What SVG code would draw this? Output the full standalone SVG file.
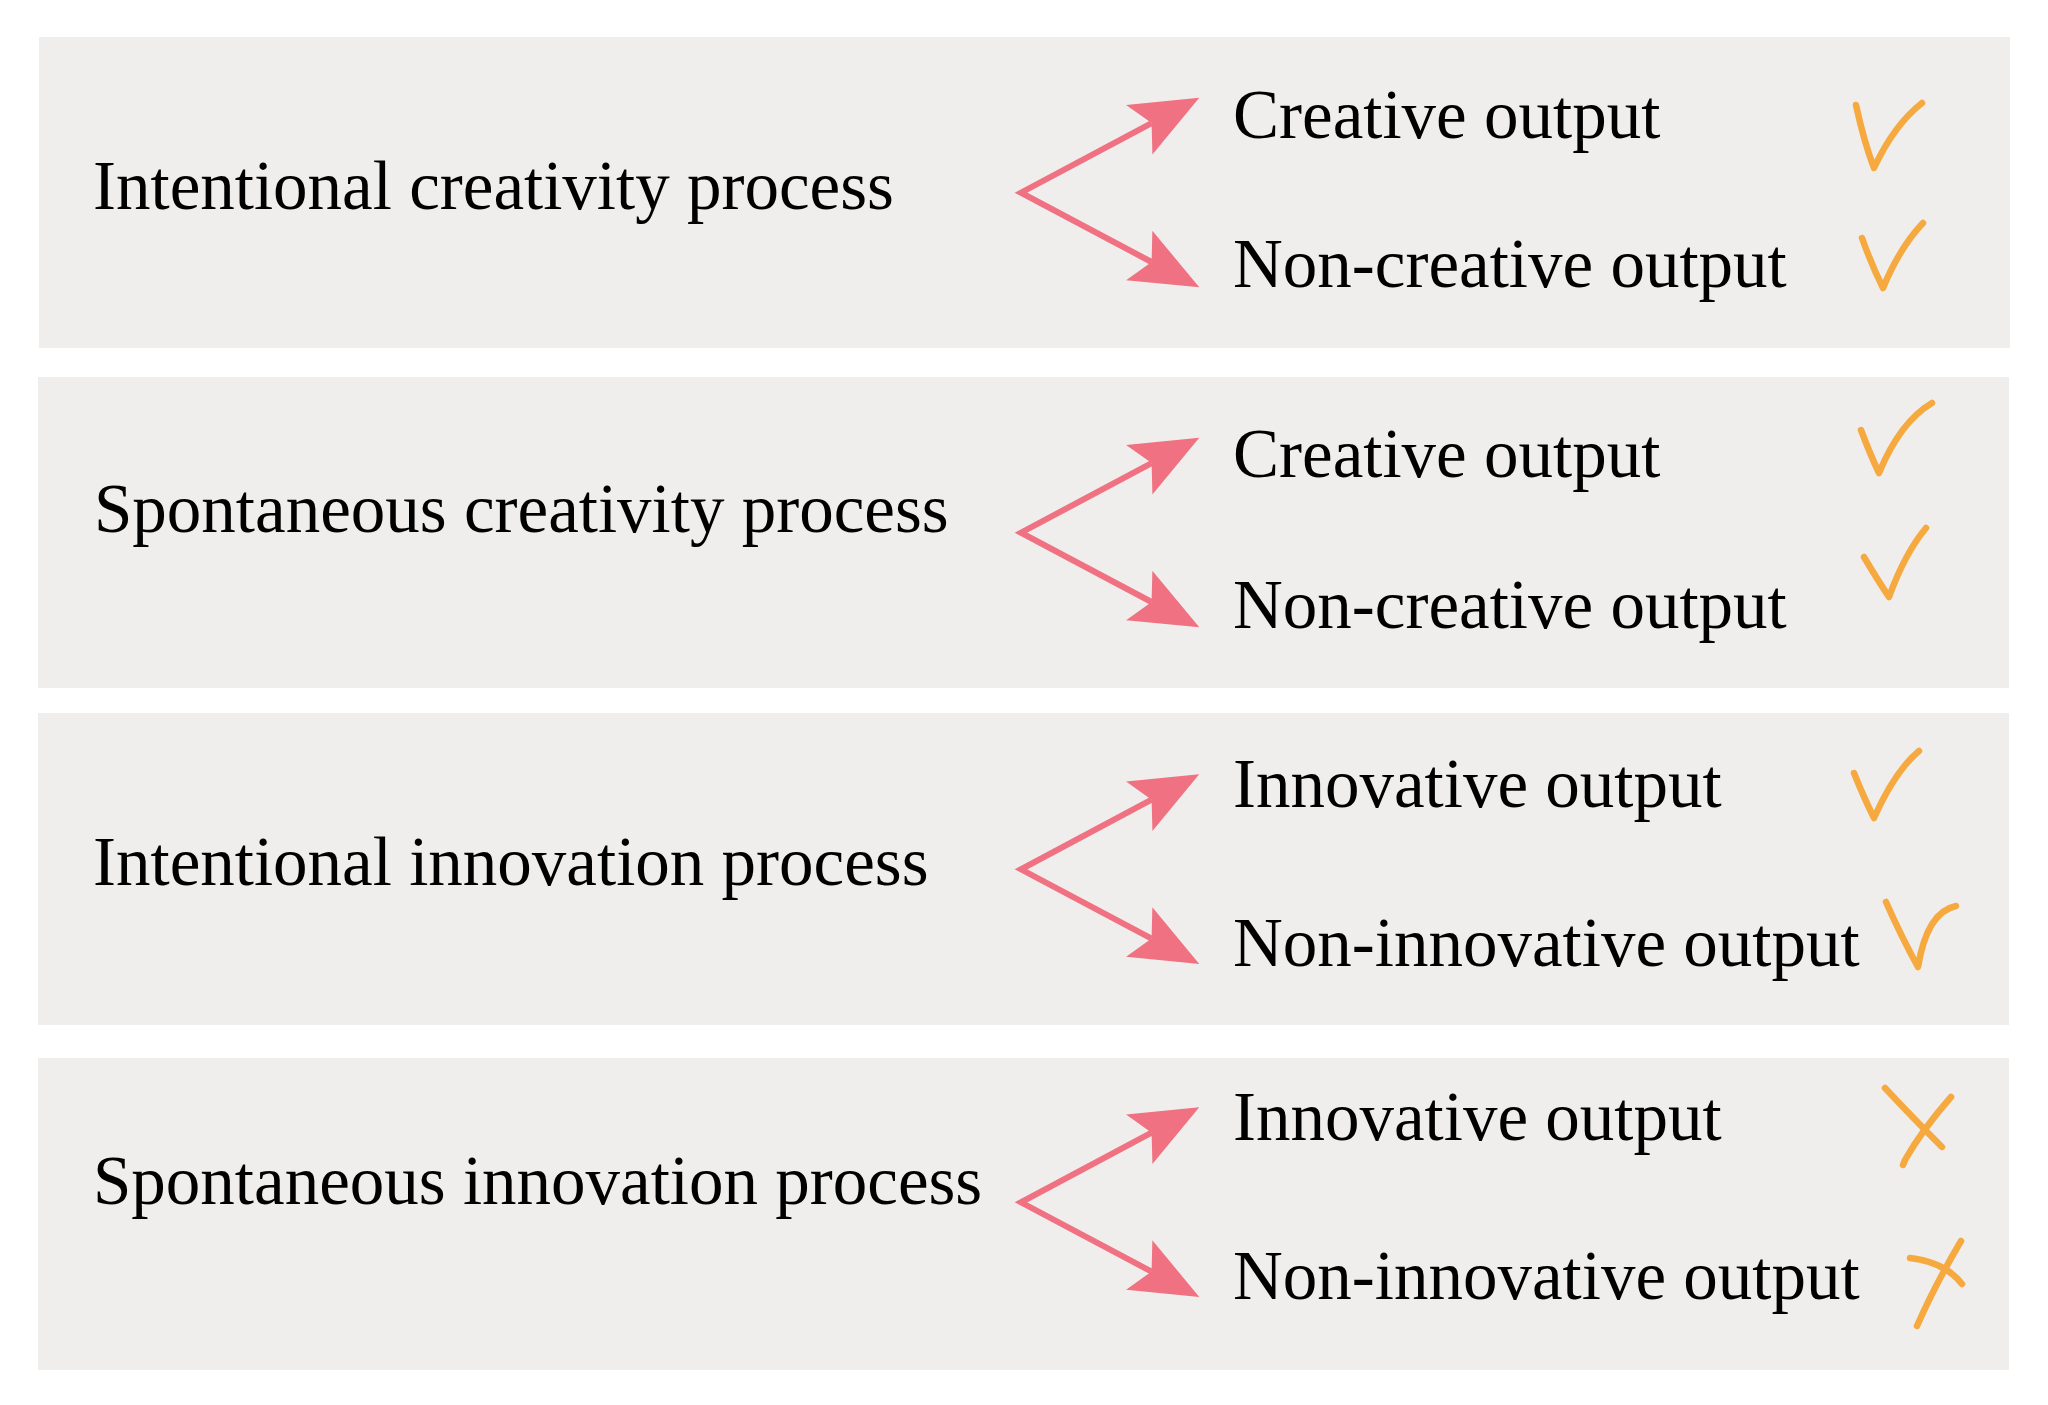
<svg xmlns="http://www.w3.org/2000/svg" width="2048" height="1405" viewBox="0 0 2048 1405">
<style>
.panel{fill:#EFEEEC}
.t{font-family:"Liberation Serif","Times New Roman",serif;font-size:69px;fill:#000}
.conn{fill:none;stroke:#F07181;stroke-width:6;stroke-linejoin:miter;stroke-linecap:butt}
.mark{fill:none;stroke:#F6A93F;stroke-width:6.5;stroke-linecap:round;stroke-linejoin:round}
</style>
<defs>
<marker id="ah" viewBox="-70 -30 72 60" refX="-54" refY="0" markerUnits="userSpaceOnUse" markerWidth="72" markerHeight="60" orient="auto-start-reverse">
<path d="M0,0 L-68,-28 L-54,0 L-68,28 Z" fill="#F07181"/>
</marker>
</defs>
<rect width="2048" height="1405" fill="#FFFFFF"/>

<g id="row1">
<rect class="panel" x="39" y="37" width="1971" height="311"/>
<text class="t" x="93" y="209">Intentional creativity process</text>
<text class="t" x="1233" y="138">Creative output</text>
<text class="t" x="1233" y="287">Non-creative output</text>
<path class="mark" d="M1856,105 Q1864,142 1874,168 Q1894,125 1922,103"/>
<path class="mark" d="M1862,238 Q1872,266 1883,288 Q1900,247 1923,223"/>
</g>

<g id="row2">
<rect class="panel" x="38" y="377" width="1971" height="311"/>
<text class="t" x="94" y="532">Spontaneous creativity process</text>
<text class="t" x="1233" y="477">Creative output</text>
<text class="t" x="1233" y="628">Non-creative output</text>
<path class="mark" d="M1861,430 Q1870,454 1879,473 Q1900,422 1932,403"/>
<path class="mark" d="M1864,557 Q1877,579 1889,597 Q1905,553 1926,528"/>
</g>

<g id="row3">
<rect class="panel" x="38" y="713" width="1971" height="312"/>
<text class="t" x="93" y="885">Intentional innovation process</text>
<text class="t" x="1233" y="807">Innovative output</text>
<text class="t" x="1233" y="966">Non-innovative output</text>
<path class="mark" d="M1854,773 Q1864,798 1874,818 Q1895,771 1919,751"/>
<path class="mark" d="M1886,902 Q1902,938 1918,967 Q1927,912 1956,906"/>
</g>

<g id="row4">
<rect class="panel" x="38" y="1058" width="1971" height="312"/>
<text class="t" x="93" y="1204">Spontaneous innovation process</text>
<text class="t" x="1233" y="1140">Innovative output</text>
<text class="t" x="1233" y="1299">Non-innovative output</text>
<path class="mark" d="M1885,1088 Q1915,1120 1942,1147"/>
<path class="mark" d="M1951,1097 Q1922,1130 1905,1160 L1903,1165"/>
<path class="mark" d="M1910,1258 Q1945,1262 1962,1284"/>
<path class="mark" d="M1961,1241 Q1935,1285 1917,1326"/>
</g>

<g id="connectors">
<path class="conn" d="M1151.6,123.1 L1021,192.7 L1151.6,262" marker-start="url(#ah)" marker-end="url(#ah)"/>
<path class="conn" d="M1151.6,463.1 L1021,532.7 L1151.6,602" marker-start="url(#ah)" marker-end="url(#ah)"/>
<path class="conn" d="M1151.6,799.7 L1021,869.3 L1151.6,938.6" marker-start="url(#ah)" marker-end="url(#ah)"/>
<path class="conn" d="M1151.6,1132.7 L1021,1202.3 L1151.6,1271.6" marker-start="url(#ah)" marker-end="url(#ah)"/>
</g>
</svg>
